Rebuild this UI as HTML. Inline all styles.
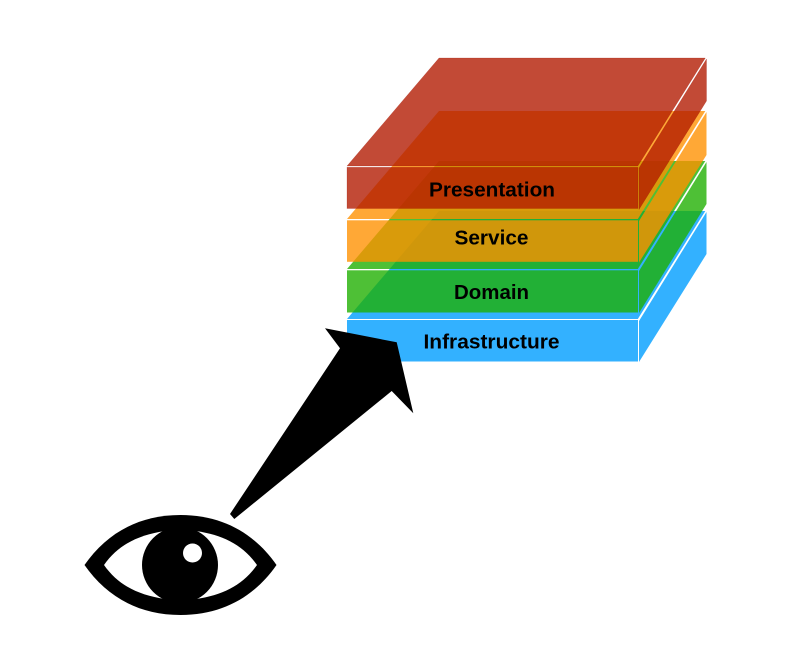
<!DOCTYPE html>
<html>
<head>
<meta charset="utf-8">
<style>
html,body{margin:0;padding:0;background:#fff;width:800px;height:660px;overflow:hidden}
svg{display:block}
text{font-family:"Liberation Sans",Arial,sans-serif;font-weight:bold;font-size:20px;fill:#000;text-anchor:middle}
</style>
</head>
<body>
<svg width="800" height="660" viewBox="0 0 800 660" xmlns="http://www.w3.org/2000/svg">
<rect width="800" height="660" fill="#fff"/>
<!-- Infrastructure -->
<g fill="#33B1FF">
<polygon points="347,319 439,211 705.300,211 637.800,319"/>
<rect x="347" y="320" width="291" height="41.500"/>
<polygon points="639,321 706.500,212 706.500,254 639,362"/>
</g>
<!-- Domain -->
<g fill="#1FAF00" fill-opacity="0.79">
<polygon points="347,269 439,161 705.300,161 637.800,269"/>
<rect x="347" y="270.300" width="291" height="42.200"/>
<polygon points="639,271 706.500,162 706.500,204 639,313"/>
</g>
<!-- Service -->
<g fill="#FF9000" fill-opacity="0.79">
<polygon points="347,219 439,111 705.300,111 637.800,219"/>
<rect x="347" y="220.300" width="291" height="41.500"/>
<polygon points="639,221 706.500,112 706.500,155 639,262.500"/>
</g>
<!-- Presentation -->
<g fill="#B21A00" fill-opacity="0.79" stroke="#9E1000" stroke-opacity="0.4" stroke-width="0.5">
<polygon points="347,166 439,58 705.300,58 637.800,166"/>
<rect x="347" y="167.300" width="291" height="41.200"/>
<polygon points="639,168 706.500,59 706.500,101 639,209.500"/>
</g>
<text x="492" y="196.500" textLength="126" lengthAdjust="spacingAndGlyphs">Presentation</text>
<text x="491.500" y="244.500" textLength="74" lengthAdjust="spacingAndGlyphs">Service</text>
<text x="491.500" y="299" textLength="75" lengthAdjust="spacingAndGlyphs">Domain</text>
<text x="491.500" y="348.500" textLength="136" lengthAdjust="spacingAndGlyphs">Infrastructure</text>
<!-- Arrow -->
<polygon points="325,328.300 396.700,342.300 413.300,413.300 391.700,391 234.300,519 230,514 340,348.300" fill="#000"/>
<!-- Eye -->
<path d="M84.500,565 C106,534 138,515 180.500,515 C223,515 255,534 276.500,565 C255,596 223,615 180.500,615 C138,615 106,596 84.500,565 Z" fill="#000"/>
<path d="M104,565 C118,545 138,535 165,531 L196,531 C223,535 243,545 257,565 C243,585 223,595 196,599 L165,599 C138,595 118,585 104,565 Z" fill="#fff"/>
<circle cx="180" cy="565" r="38" fill="#000"/>
<circle cx="192.500" cy="553" r="9.500" fill="#fff"/>
</svg>
</body>
</html>
